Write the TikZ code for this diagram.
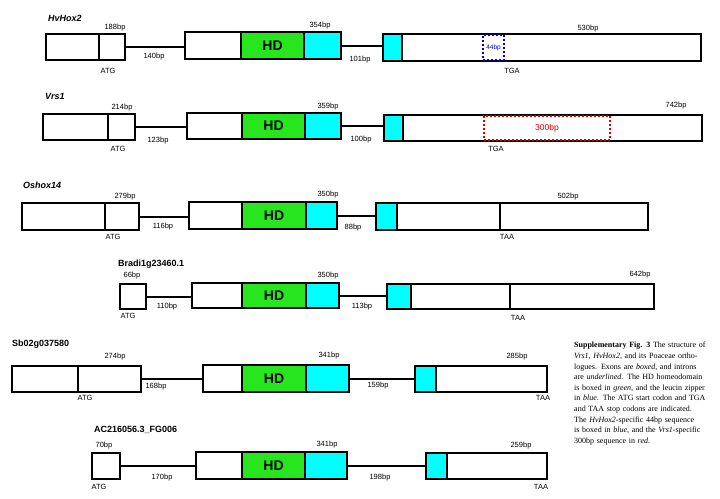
\documentclass[tikz,border=0pt]{standalone}
\usetikzlibrary{fit}
\usepackage{fontspec}
\setmainfont{Liberation Sans}
\newfontfamily\capfont{Liberation Serif}
\definecolor{hdgreen}{RGB}{40,230,30}
\definecolor{lzcyan}{RGB}{0,255,255}
\begin{document}
\begin{tikzpicture}[x=1pt,y=-1pt,
  exon/.style={draw,line width=1.6pt,inner sep=0pt},
  hd/.style={exon,fill=hdgreen},
  lz/.style={exon,fill=lzcyan},
  hdt/.style={font=\fontsize{14}{14}\selectfont\bfseries},
  intron/.style={line width=2pt},
  lab/.style={font=\fontsize{7.5}{8}\selectfont,inner sep=0pt},
  gname/.style={font=\fontsize{9}{10}\selectfont\bfseries\itshape,inner sep=0pt,anchor=west},
  pname/.style={font=\fontsize{9}{10}\selectfont\bfseries,inner sep=0pt,anchor=west}]
\newcommand\ex[6][exon]{\node[#1,fit={(#3,#4)(#5,#6)}](#2){};}
\useasboundingbox[fill=white] (0,0) rectangle (720,498);
% ===== HvHox2
\node[gname] (n1) at (48,18) {HvHox2};
\ex{a1}{46}{34}{125}{60}\draw[line width=1.6pt] (99,34)--(99,60);
\ex[hd]{a2g}{241}{32}{304}{59}\node[hdt] at (a2g) {HD};
\ex[lz]{a2c}{304}{32}{341}{59}
\ex{a2}{185}{32}{341}{59}
\ex[lz]{a3c}{383}{34}{402}{61}
\ex{a3}{383}{34}{701}{61}
\node[draw=blue!80!black,dotted,line width=2pt,inner sep=0pt,fit={(483,35)(504,60)}] (a44) {};
\node[lab,text=blue!80!black,font=\fontsize{6.5}{7}\selectfont] at (a44) {44bp};
\draw[intron] (a1.east) -- (a1.east -| a2.west);
\draw[intron] (a2.east) -- (a2.east -| a3.west);
\node[lab] at (115,28) {188bp};\node[lab] at (154,57) {140bp};\node[lab] at (108,71) {ATG};
\node[lab] at (320,26) {354bp};\node[lab] at (360,60) {101bp};\node[lab] at (512,71) {TGA};\node[lab] at (588,29) {530bp};
% ===== Vrs1
\node[gname] (n2) at (45,96) {Vrs1};
\ex{b1}{43}{114}{135}{140}\draw[line width=1.6pt] (108,114)--(108,140);
\ex[hd]{b2g}{242}{113}{305}{139}\node[hdt] at (b2g) {HD};
\ex[lz]{b2c}{305}{113}{341}{139}
\ex{b2}{187}{113}{341}{139}
\ex[lz]{b3c}{384}{115}{403}{141}
\ex{b3}{384}{115}{702}{141}
\node[draw=red!85!black,dotted,line width=2pt,inner sep=0pt,fit={(484,116)(610,140)}] (b300) {};
\node[lab,text=red!85!black,font=\fontsize{8.5}{9}\selectfont] at (b300) {300bp};
\draw[intron] (b1.east) -- (b1.east -| b2.west);
\draw[intron] (b2.east) -- (b2.east -| b3.west);
\node[lab] at (122,108) {214bp};\node[lab] at (158,141) {123bp};\node[lab] at (118,149) {ATG};
\node[lab] at (328,107) {359bp};\node[lab] at (361,140) {100bp};\node[lab] at (496,149) {TGA};\node[lab] at (676,106) {742bp};
% ===== Oshox14
\node[gname] (n3) at (23,185) {Oshox14};
\ex{c1}{22}{203}{139}{230}\draw[line width=1.6pt] (105,203)--(105,230);
\ex[hd]{c2g}{242}{202}{306}{229}\node[hdt] at (c2g) {HD};
\ex[lz]{c2c}{306}{202}{337}{229}
\ex{c2}{189}{202}{337}{229}
\ex[lz]{c3c}{376}{203}{397}{230}
\ex{c3}{376}{203}{648}{230}\draw[line width=1.6pt] (500,203)--(500,230);
\draw[intron] (c1.east) -- (c1.east -| c2.west);
\draw[intron] (c2.east) -- (c2.east -| c3.west);
\node[lab] at (125,197) {279bp};\node[lab] at (163,227) {116bp};\node[lab] at (113,237) {ATG};
\node[lab] at (328,195) {350bp};\node[lab] at (353,228) {88bp};\node[lab] at (507,237) {TAA};\node[lab] at (568,197) {502bp};
% ===== Bradi1g23460.1
\node[pname] (n4) at (118,264) {Bradi1g23460.1};
\ex{d1}{120}{284}{146}{309}
\ex[hd]{d2g}{242}{283}{306}{308}\node[hdt] at (d2g) {HD};
\ex[lz]{d2c}{306}{283}{339}{308}
\ex{d2}{192}{283}{339}{308}
\ex[lz]{d3c}{387}{284}{411}{309}
\ex{d3}{387}{284}{654}{309}\draw[line width=1.6pt] (510,284)--(510,309);
\draw[intron] (d1.east) -- (d1.east -| d2.west);
\draw[intron] (d2.east) -- (d2.east -| d3.west);
\node[lab] at (132,276) {66bp};\node[lab] at (167,307) {110bp};\node[lab] at (128,316) {ATG};
\node[lab] at (328,276) {350bp};\node[lab] at (362,307) {113bp};\node[lab] at (518,318) {TAA};\node[lab] at (640,275) {642bp};
% ===== Sb02g037580
\node[pname] (n5) at (12,344) {Sb02g037580};
\ex{e1}{12}{366}{141}{392}\draw[line width=1.6pt] (78,366)--(78,392);
\ex[hd]{e2g}{242}{365}{306}{392}\node[hdt] at (e2g) {HD};
\ex[lz]{e2c}{306}{365}{349}{392}
\ex{e2}{203}{365}{349}{392}
\ex[lz]{e3c}{415}{366}{436}{392}
\ex{e3}{415}{366}{547}{392}
\draw[intron] (e1.east) -- (e1.east -| e2.west);
\draw[intron] (e2.east) -- (e2.east -| e3.west);
\node[lab] at (115,357) {274bp};\node[lab] at (156,387) {168bp};\node[lab] at (85,398) {ATG};
\node[lab] at (329,356) {341bp};\node[lab] at (378,386) {159bp};\node[lab] at (543,398) {TAA};\node[lab] at (517,357) {285bp};
% ===== AC216056.3_FG006
\node[pname] (n6) at (94,430) {AC216056.3\_FG006};
\ex{f1}{92}{453}{120}{479}
\ex[hd]{f2g}{242}{452}{305}{479}\node[hdt] at (f2g) {HD};
\ex[lz]{f2c}{305}{452}{347}{479}
\ex{f2}{196}{452}{347}{479}
\ex[lz]{f3c}{426}{453}{447}{479}
\ex{f3}{426}{453}{547}{479}
\draw[intron] (f1.east) -- (f1.east -| f2.west);
\draw[intron] (f2.east) -- (f2.east -| f3.west);
\node[lab] at (104,446) {70bp};\node[lab] at (162,478) {170bp};\node[lab] at (99,487) {ATG};
\node[lab] at (327,445) {341bp};\node[lab] at (380,478) {198bp};\node[lab] at (541,487) {TAA};\node[lab] at (521,446) {259bp};
% ===== caption
\node[anchor=north west,inner sep=0pt,text width=134pt,align=left,font=\capfont\fontsize{8}{10.6}\selectfont] (cap) at (574,342)
{\textbf{Supplementary Fig. 3} The structure of \textit{Vrs1}, \textit{HvHox2}, and its Poaceae orthologues. Exons are \textit{boxed}, and introns are \textit{underlined}. The HD homeodomain is boxed in \textit{green}, and the leucin zipper in \textit{blue}. The ATG start codon and TGA and TAA stop codons are indicated. The \textit{HvHox2}-specific 44bp sequence is boxed in \textit{blue}, and the \textit{Vrs1}-specific 300bp sequence in \textit{red}.};
\end{tikzpicture}
\end{document}
